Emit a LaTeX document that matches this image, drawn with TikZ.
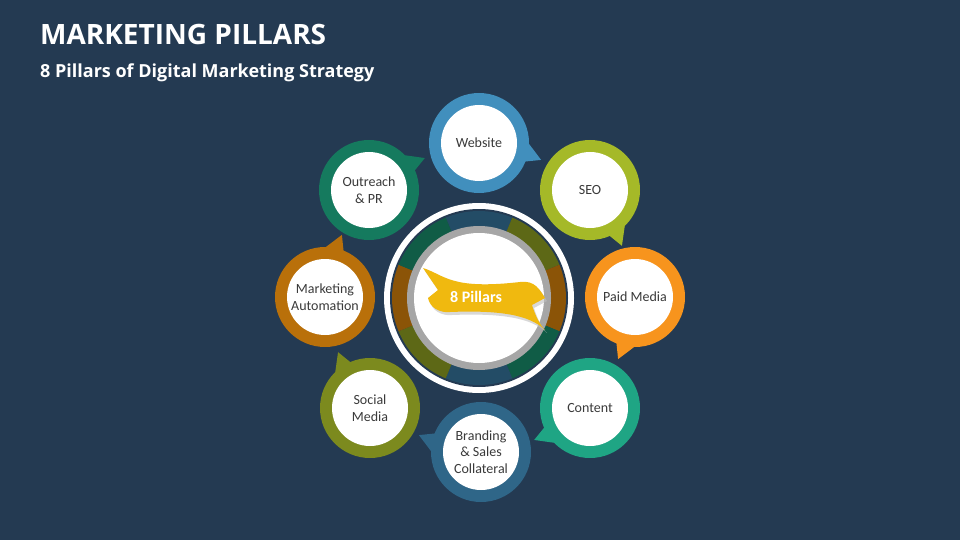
\documentclass[tikz,border=0pt]{standalone}
\usepackage{fontspec}
\usetikzlibrary{calc}
\setmainfont{Carlito}
\newfontfamily\ttlfont{Open Sans}
\definecolor{bg}{HTML}{243A52}
\definecolor{cWeb}{HTML}{418FBD}
\definecolor{cSeo}{HTML}{A5B928}
\definecolor{cPaid}{HTML}{F7941D}
\definecolor{cCont}{HTML}{1FA584}
\definecolor{cBrand}{HTML}{2F6688}
\definecolor{cSoc}{HTML}{7C8A1E}
\definecolor{cAuto}{HTML}{B9700A}
\definecolor{cOut}{HTML}{157A5E}
\definecolor{txt}{HTML}{3A3A3A}
\definecolor{ban}{HTML}{F0B90F}
\begin{document}
\begin{tikzpicture}[x=1pt,y=-1pt,
  lbl/.style={font=\fontsize{14}{16.5}\selectfont,text=txt,align=center}]
\fill[bg] (0,0) rectangle (960,540);
\useasboundingbox (0,0) rectangle (960,540);
\node[anchor=west,inner xsep=0pt,text=white,font=\ttlfont\bfseries\fontsize{28}{32}\selectfont] (title) at (40,35) {MARKETING PILLARS};
\node[anchor=west,inner xsep=0pt,text=white,font=\ttlfont\bfseries\fontsize{18}{22}\selectfont] (sub) at (40,73) {8 Pillars of Digital Marketing Strategy};
% centre
\coordinate (C) at (479,298);
\fill[white] (C) circle (95);
\fill[bg] (C) circle (89);
\foreach \a/\c in {-90/cBrand,-45/cSoc,0/cAuto,45/cOut,90/cBrand,135/cSoc,180/cAuto,-135/cOut}{
  \fill[\c!75!black] ($(C)+(\a-22.5:87)$) arc[start angle=\a-22.5,end angle=\a+22.5,radius=87]
    -- ($(C)+(\a+22.5:70)$) arc[start angle=\a+22.5,end angle=\a-22.5,radius=70] -- cycle;
}
\fill[gray!70] (C) circle (72);
\fill[white] (C) circle (65);
% banner
\fill[black!25,opacity=0.6,xshift=2pt,yshift=-3pt] (423,268) .. controls (445,275) and (450,290) .. (520,282) .. controls (535,280) and (540,290) .. (545,298) -- (532,305) .. controls (535,315) and (540,325) .. (545,330) .. controls (530,315) and (500,310) .. (450,312) .. controls (440,313) and (430,308) .. (428,298) -- (438,290) -- cycle;
\fill[ban] (423,268) .. controls (445,275) and (450,290) .. (520,282) .. controls (535,280) and (540,290) .. (545,298) -- (532,305) .. controls (535,315) and (540,325) .. (545,330) .. controls (530,315) and (500,310) .. (450,312) .. controls (440,313) and (430,308) .. (428,298) -- (438,290) -- cycle;
\node[text=white,font=\bfseries\fontsize{16}{18}\selectfont] (center) at (476,297) {8 Pillars};
% satellites
\foreach \n/\x/\y/\c/\big/\t in {
  web/479/143/cWeb/90/Website,
  seo/590/190/cSeo/45/SEO,
  paid/635/297/cPaid/0/Paid Media,
  cont/590/408/cCont/-45/Content,
  brand/481/452/cBrand/-90/{Branding\\\& Sales\\Collateral},
  soc/370/408/cSoc/-135/{Social\\Media},
  auto/325/297/cAuto/180/{Marketing\\Automation},
  out/369/190/cOut/135/{Outreach\\\& PR}}{
  \coordinate (p\n) at (\x,\y);
  \fill[\c] (p\n) circle (50);
  \fill[white] (p\n) circle (38);
  \pgfmathsetmacro{\ang}{100-\big}
  \pgfmathsetmacro{\tang}{\ang+90}
  \pgfmathsetmacro{\dir}{\ang+18}
  \fill[\c] ($(p\n)+(\ang:46)+(\tang:11)$) -- ($(p\n)+(\ang:46)+(\dir:19)$) -- ($(p\n)+(\ang:46)+(\tang:-11)$) -- cycle;
  \node[lbl] (\n) at (p\n) {\t};
}
\end{tikzpicture}
\end{document}
